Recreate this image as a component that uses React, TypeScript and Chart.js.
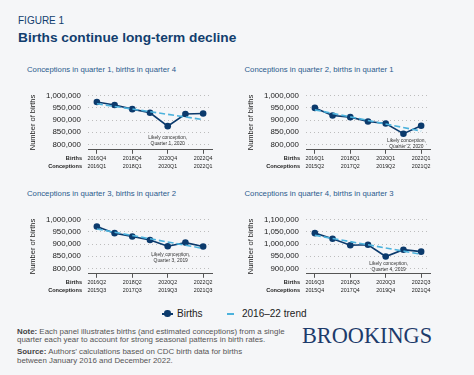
import React, { useEffect, useRef } from 'react';
import { Chart, registerables } from 'chart.js';

Chart.register(...registerables);

// ---------------- data ----------------
const P1_TITLE = 'Conceptions in quarter 1, births in quarter 4';
const P1_BIRTH_Q = ['2016Q4', '2017Q4', '2018Q4', '2019Q4', '2020Q4', '2021Q4', '2022Q4'];
const P1_CONC_Q = ['2016Q1', '2017Q1', '2018Q1', '2019Q1', '2020Q1', '2021Q1', '2022Q1'];
const P1_BIRTHS = [974000, 962000, 945000, 930000, 875000, 925000, 927000];
const P1_TREND = [967000, null, null, null, null, null, 902000];
const P1_NOTE = ['Likely conception,', 'Quarter 1, 2020'];
const P1_NOTE_INDEX = 4;

const P2_TITLE = 'Conceptions in quarter 2, births in quarter 1';
const P2_BIRTH_Q = ['2016Q1', '2017Q1', '2018Q1', '2019Q1', '2020Q1', '2021Q1', '2022Q1'];
const P2_CONC_Q = ['2015Q2', '2016Q2', '2017Q2', '2018Q2', '2019Q2', '2020Q2', '2021Q2'];
const P2_BIRTHS = [950000, 919000, 912000, 894000, 886000, 844000, 877000];
const P2_TREND = [942000, null, null, null, null, null, 855000];
const P2_NOTE = ['Likely conception,', 'Quarter 2, 2020'];
const P2_NOTE_INDEX = 5;

const P3_TITLE = 'Conceptions in quarter 3, births in quarter 2';
const P3_BIRTH_Q = ['2016Q2', '2017Q2', '2018Q2', '2019Q2', '2020Q2', '2021Q2', '2022Q2'];
const P3_CONC_Q = ['2015Q3', '2016Q3', '2017Q3', '2018Q3', '2019Q3', '2020Q3', '2021Q3'];
const P3_BIRTHS = [972000, 945000, 931000, 917000, 891000, 906000, 890000];
const P3_TREND = [962000, null, null, null, null, null, 882000];
const P3_NOTE = ['Likely conception,', 'Quarter 3, 2019'];
const P3_NOTE_INDEX = 4;

const P4_TITLE = 'Conceptions in quarter 4, births in quarter 3';
const P4_BIRTH_Q = ['2016Q3', '2017Q3', '2018Q3', '2019Q3', '2020Q3', '2021Q3', '2022Q3'];
const P4_CONC_Q = ['2015Q4', '2016Q4', '2017Q4', '2018Q4', '2019Q4', '2020Q4', '2021Q4'];
const P4_BIRTHS = [1045000, 1022000, 995000, 997000, 949000, 977000, 969000];
const P4_TREND = [1036000, null, null, null, null, null, 958000];
const P4_NOTE = ['Likely conception,', 'Quarter 4, 2019'];
const P4_NOTE_INDEX = 4;

const Y_TICKS_A = [800000, 850000, 900000, 950000, 1000000];
const Y_TICKS_B = [900000, 950000, 1000000, 1050000, 1100000];

// ---------------- style ----------------
const BG = '#f5f6f8';
const NAVY = '#0b3a6c';
const HEAD = '#123e6e';
const SUB = '#2b5b8d';
const TREND = '#4cb2dc';
const TXT = '#222222';
const AXIS = '#555555';
const FONT = '"Liberation Sans", Arial, Helvetica, sans-serif';

const panelPlugin = {
  id: 'panelExtras',
  afterDraw(chart: any, _args: any, opts: any) {
    const { ctx, chartArea, scales } = chart;
    const xs = scales.x;
    const lh = 8.7;
    const y1 = xs.top + 4.5 + lh / 2;
    const y2 = y1 + lh;
    ctx.save();
    ctx.fillStyle = TXT;
    ctx.font = `bold 5.6px ${FONT}`;
    ctx.textAlign = 'right';
    ctx.textBaseline = 'middle';
    ctx.fillText('Births', chartArea.left - 6, y1);
    ctx.fillText('Conceptions', chartArea.left - 6, y2);
    // annotation
    const meta = chart.getDatasetMeta(1);
    const pt = meta.data[opts.noteIndex];
    if (pt) {
      ctx.font = `4.9px ${FONT}`;
      ctx.fillStyle = '#333';
      ctx.textAlign = 'center';
      opts.note.forEach((line: string, i: number) => {
        ctx.fillText(line, pt.x + opts.dx, pt.y + opts.dy + i * 5.8);
      });
    }
    ctx.restore();
  },
};

type PanelProps = {
  title: string;
  birthQ: string[];
  concQ: string[];
  births: number[];
  trend: (number | null)[];
  yMin: number;
  yMax: number;
  yTicks: number[];
  note: string[];
  noteIndex: number;
  dx: number;
  dy: number;
  noteDx: number;
  noteDy: number;
};

function Panel(p: PanelProps) {
  const ref = useRef<HTMLCanvasElement>(null);
  useEffect(() => {
    const chart = new Chart(ref.current as HTMLCanvasElement, {
      type: 'line',
      data: {
        labels: p.birthQ,
        datasets: [
          {
            label: '2016–22 trend',
            data: p.trend,
            borderColor: TREND,
            borderDash: [6, 3],
            borderWidth: 1.6,
            pointRadius: 0,
            spanGaps: true,
            order: 0,
          },
          {
            label: 'Births',
            data: p.births,
            borderColor: NAVY,
            backgroundColor: NAVY,
            borderWidth: 1.6,
            pointRadius: 3.3,
            pointBackgroundColor: NAVY,
            pointBorderWidth: 0,
            order: 1,
          },
        ],
      },
      options: {
        animation: false,
        responsive: false,
        events: [],
        layout: { padding: { left: 0, right: 8, top: 7, bottom: 0 } },
        plugins: {
          legend: { display: false },
          tooltip: { enabled: false },
          // @ts-ignore
          panelExtras: { note: p.note, noteIndex: p.noteIndex, dx: p.noteDx, dy: p.noteDy },
        },
        scales: {
          x: {
            type: 'category',
            offset: true,
            grid: {
              offset: false,
              drawOnChartArea: false,
              tickLength: 4.5,
              color: (c: any) => (c.index % 2 === 0 ? AXIS : 'rgba(0,0,0,0)'),
            },
            border: { color: AXIS, width: 1 },
            ticks: {
              autoSkip: false,
              maxRotation: 0,
              minRotation: 0,
              padding: 0,
              color: TXT,
              font: { family: FONT, size: 5.3, lineHeight: 1.64 },
              callback: (_v: any, i: number) => (i % 2 === 0 ? [p.birthQ[i], p.concQ[i]] : ''),
            },
            afterFit: (s: any) => {
              s.height = 26.7;
            },
          },
          y: {
            min: p.yMin,
            max: p.yMax,
            afterBuildTicks: (s: any) => {
              s.ticks = p.yTicks.map((v) => ({ value: v }));
            },
            grid: { drawTicks: false, color: '#bdbdbd', lineWidth: 1 },
            border: { display: false, dash: [1, 3] },
            ticks: {
              padding: 7,
              color: TXT,
              font: { family: FONT, size: 7.9 },
              callback: (v: any) => Number(v).toLocaleString('en-US'),
            },
            title: {
              display: true,
              text: 'Number of births',
              color: TXT,
              font: { family: FONT, size: 7.5, lineHeight: 1.2 },
              padding: { top: 8.5, bottom: 0 },
            },
            afterFit: (s: any) => {
              s.width = 68;
            },
          },
        },
      },
      plugins: [panelPlugin as any],
    });
    return () => chart.destroy();
  }, []);

  return (
    <>
      <div
        style={{
          position: 'absolute',
          left: 27 + p.dx,
          top: 66 + p.dy,
          fontSize: 7.75,
          lineHeight: '7.75px',
          color: SUB,
          whiteSpace: 'nowrap',
        }}
      >
        {p.title}
      </div>
      <canvas
        ref={ref}
        width={200}
        height={92}
        style={{ position: 'absolute', left: 20 + p.dx, top: 84 + p.dy, width: 200, height: 92 }}
      />
    </>
  );
}

export default function App() {
  return (
    <div
      style={{
        position: 'fixed',
        left: 0,
        top: 0,
        width: 474,
        height: 375,
        background: BG,
        fontFamily: FONT,
        overflow: 'hidden',
      }}
    >
      <div style={{ position: 'absolute', left: 18, top: 15.8, fontSize: 10, lineHeight: '10px', color: HEAD }}>
        FIGURE 1
      </div>
      <div
        style={{
          position: 'absolute',
          left: 18,
          top: 30.8,
          fontSize: 13.7,
          lineHeight: '13.7px',
          fontWeight: 700,
          color: HEAD,
          whiteSpace: 'nowrap',
        }}
      >
        Births continue long-term decline
      </div>

      <Panel title={P1_TITLE} birthQ={P1_BIRTH_Q} concQ={P1_CONC_Q} births={P1_BIRTHS} trend={P1_TREND}
        yMin={780000} yMax={1000000} yTicks={Y_TICKS_A} note={P1_NOTE} noteIndex={P1_NOTE_INDEX}
        dx={0} dy={0} noteDx={0} noteDy={11.3} />
      <Panel title={P2_TITLE} birthQ={P2_BIRTH_Q} concQ={P2_CONC_Q} births={P2_BIRTHS} trend={P2_TREND}
        yMin={780000} yMax={1000000} yTicks={Y_TICKS_A} note={P2_NOTE} noteIndex={P2_NOTE_INDEX}
        dx={217.5} dy={0} noteDx={3} noteDy={7} />
      <Panel title={P3_TITLE} birthQ={P3_BIRTH_Q} concQ={P3_CONC_Q} births={P3_BIRTHS} trend={P3_TREND}
        yMin={780000} yMax={1000000} yTicks={Y_TICKS_A} note={P3_NOTE} noteIndex={P3_NOTE_INDEX}
        dx={0} dy={124} noteDx={3} noteDy={8.4} />
      <Panel title={P4_TITLE} birthQ={P4_BIRTH_Q} concQ={P4_CONC_Q} births={P4_BIRTHS} trend={P4_TREND}
        yMin={880000} yMax={1100000} yTicks={Y_TICKS_B} note={P4_NOTE} noteIndex={P4_NOTE_INDEX}
        dx={217.5} dy={124} noteDx={3} noteDy={7} />

      {/* legend */}
      <div style={{ position: 'absolute', left: 162, top: 312.5, width: 11, height: 2, background: NAVY }} />
      <div
        style={{
          position: 'absolute',
          left: 164.2,
          top: 310.2,
          width: 6.6,
          height: 6.6,
          borderRadius: '50%',
          background: NAVY,
        }}
      />
      <div style={{ position: 'absolute', left: 177, top: 308.5, fontSize: 10, lineHeight: '10px', color: TXT }}>
        Births
      </div>
      <div style={{ position: 'absolute', left: 227, top: 312.5, width: 6.5, height: 2, background: TREND }} />
      <div
        style={{
          position: 'absolute',
          left: 242,
          top: 308.5,
          fontSize: 10,
          lineHeight: '10px',
          color: TXT,
          whiteSpace: 'nowrap',
        }}
      >
        2016–22 trend
      </div>

      {/* notes */}
      <div
        style={{
          position: 'absolute',
          left: 17,
          top: 327.8,
          width: 290,
          fontSize: 7.9,
          lineHeight: '8.4px',
          color: '#555',
        }}
      >
        <div>
          <b style={{ color: '#444' }}>Note:</b> Each panel illustrates births (and estimated conceptions) from a single
          quarter each year to account for strong seasonal patterns in birth rates.
        </div>
        <div style={{ marginTop: 3.6 }}>
          <b style={{ color: '#444' }}>Source:</b> Authors’ calculations based on CDC birth data for births
          <br />
          between January 2016 and December 2022.
        </div>
      </div>

      <div
        style={{
          position: 'absolute',
          left: 302,
          top: 325,
          fontFamily: '"Liberation Serif", "DejaVu Serif", serif',
          fontSize: 22.3,
          lineHeight: '22.3px',
          color: '#1d3b6b',
          whiteSpace: 'nowrap',
        }}
      >
        BROOKINGS
      </div>
    </div>
  );
}
